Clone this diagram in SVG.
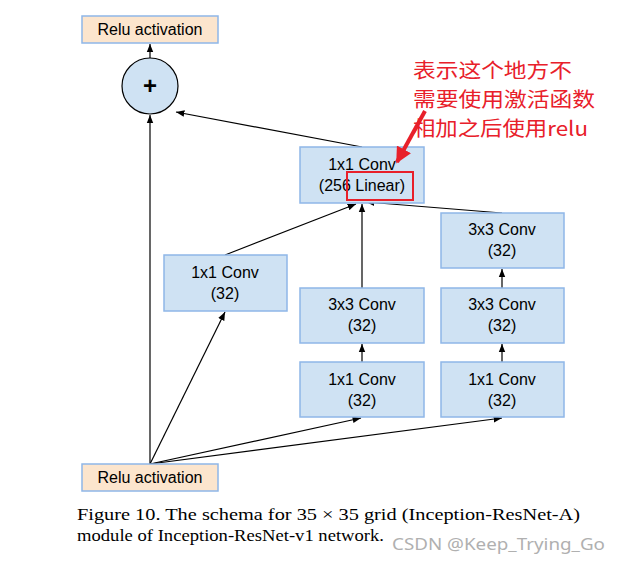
<svg xmlns="http://www.w3.org/2000/svg" width="619" height="563" viewBox="0 0 619 563">
<style>
.b{fill:#cfe2f3;stroke:#8fb6e8;stroke-width:1.5}
.r{fill:#fce5cd;stroke:#8fb6e8;stroke-width:1.5}
.t{font-family:"Liberation Sans",Arial,sans-serif;font-size:16px;fill:#000;text-anchor:middle}
.c line{stroke:#000;stroke-width:1.2;marker-end:url(#a)}
.cap{font-family:"Liberation Serif","Times New Roman",serif;font-size:17px;fill:#000}
.red{font-family:"Noto Sans CJK SC","Noto Sans",sans-serif;font-size:20px;fill:#e8202a}
</style>
<defs>
<marker id="a" viewBox="0 0 10 10" refX="10" refY="5" markerWidth="7" markerHeight="7" orient="auto"><path d="M0,1 L10,5 L0,9 z" fill="#000"/></marker>
<marker id="ra" viewBox="0 0 10 10" refX="9" refY="5" markerWidth="4" markerHeight="4" orient="auto"><path d="M0,0 L10,5 L0,10 z" fill="#e8202a"/></marker>
</defs>
<rect width="619" height="563" fill="#fff"/>
<g class="c">
<line x1="150" y1="464" x2="150" y2="115"/>
<line x1="150" y1="464" x2="225" y2="312"/>
<line x1="150" y1="464" x2="361" y2="418"/>
<line x1="150" y1="464" x2="502" y2="418"/>
<line x1="225" y1="255" x2="356" y2="204"/>
<line x1="362" y1="288" x2="362" y2="204"/>
<line x1="502" y1="213" x2="366" y2="202"/>
<line x1="362" y1="362" x2="362" y2="344"/>
<line x1="502" y1="362" x2="502" y2="344"/>
<line x1="502" y1="288" x2="502" y2="269"/>
<line x1="362" y1="147" x2="176" y2="112"/>
<line x1="150" y1="58" x2="150" y2="44"/>
</g>
<g id="relu_top"><rect class="r" x="82" y="16" width="136" height="27"/><text class="t" x="150" y="35">Relu activation</text></g>
<g id="plus"><circle cx="150" cy="86" r="28" fill="#cfe2f3" stroke="#000" stroke-width="1.2"/><text x="150" y="94" text-anchor="middle" font-family="Liberation Sans,sans-serif" font-size="24" font-weight="bold">+</text></g>
<g id="linear"><rect class="b" x="300" y="147" width="124" height="56"/><text class="t" x="362" y="170">1x1 Conv</text><text class="t" x="362" y="191">(256 Linear)</text></g>
<g id="left"><rect class="b" x="164" y="255" width="123" height="56"/><text class="t" x="225" y="278">1x1 Conv</text><text class="t" x="225" y="299">(32)</text></g>
<g id="m3"><rect class="b" x="300" y="288" width="124" height="55"/><text class="t" x="362" y="310">3x3 Conv</text><text class="t" x="362" y="331">(32)</text></g>
<g id="m1"><rect class="b" x="300" y="362" width="124" height="55"/><text class="t" x="362" y="385">1x1 Conv</text><text class="t" x="362" y="406">(32)</text></g>
<g id="r3a"><rect class="b" x="441" y="213" width="123" height="55"/><text class="t" x="502" y="235">3x3 Conv</text><text class="t" x="502" y="256">(32)</text></g>
<g id="r3b"><rect class="b" x="441" y="288" width="123" height="55"/><text class="t" x="502" y="310">3x3 Conv</text><text class="t" x="502" y="331">(32)</text></g>
<g id="r1"><rect class="b" x="441" y="362" width="123" height="55"/><text class="t" x="502" y="385">1x1 Conv</text><text class="t" x="502" y="406">(32)</text></g>
<g id="relu_bot"><rect class="r" x="82" y="464" width="136" height="27"/><text class="t" x="150" y="483">Relu activation</text></g>
<g id="note">
<rect x="347" y="172" width="66" height="28" fill="none" stroke="#e8202a" stroke-width="2"/>
<line x1="425" y1="111" x2="397" y2="162" stroke="#e8202a" stroke-width="4" marker-end="url(#ra)"/>
<text class="red" x="413" y="78" textLength="159" lengthAdjust="spacingAndGlyphs">表示这个地方不</text>
<text class="red" x="413" y="107" textLength="182" lengthAdjust="spacingAndGlyphs">需要使用激活函数</text>
<text class="red" x="413" y="136" textLength="175" lengthAdjust="spacingAndGlyphs">相加之后使用relu</text>
</g>
<text class="cap" x="77" y="520" textLength="503" lengthAdjust="spacingAndGlyphs">Figure 10. The schema for 35 × 35 grid (Inception-ResNet-A)</text>
<text class="cap" x="77" y="541" textLength="307" lengthAdjust="spacingAndGlyphs">module of Inception-ResNet-v1 network.</text>
<text x="392" y="550" font-family="Noto Sans,sans-serif" font-size="17" fill="#b0b0b0" textLength="213" lengthAdjust="spacingAndGlyphs">CSDN @Keep_Trying_Go</text>
</svg>
